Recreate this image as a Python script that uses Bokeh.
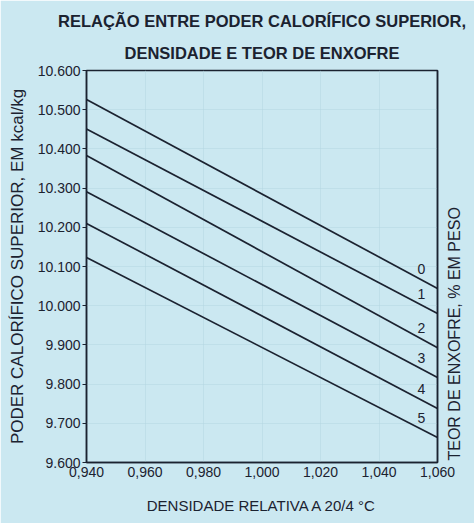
import numpy as np
from bokeh.plotting import figure
from bokeh.models import ColumnDataSource, FixedTicker, CustomJSTickFormatter, Title, LinearAxis
from bokeh.core.properties import value
from bokeh.embed import file_html
from bokeh.resources import INLINE

# ---- data ----
density = [0.940, 1.060]
sulfur_labels = ["0", "1", "2", "3", "4", "5"]
pcs_at_start = [10526, 10451, 10383, 10291, 10210, 10123]   # at density 0,940
pcs_at_end = [10044, 9980, 9893, 9817, 9738, 9664]          # at density 1,060
y_ticks = [9600, 9700, 9800, 9900, 10000, 10100, 10200, 10300, 10400, 10500, 10600]
x_ticks = [0.940, 0.960, 0.980, 1.000, 1.020, 1.040, 1.060]
label_density = 1.0545
right_title = "TEOR DE ENXOFRE, % EM PESO"
right_title_at = 9605

BG = "#cbe8f1"
INK = "#1b2230"
FONT = "Liberation Sans"

p = figure(width=474, height=523, x_range=(0.94, 1.06), y_range=(9600, 10600),
           output_backend="svg", toolbar_location=None,
           min_border_left=86, min_border_right=35, min_border_top=70, min_border_bottom=61)
p.background_fill_color = BG
p.border_fill_color = BG
p.outline_line_color = INK
p.outline_line_width = 1.5

# title (two lines)
p.title.visible = False
t2 = Title(text="DENSIDADE E TEOR DE ENXOFRE", align="center", text_font=FONT,
           text_font_size="16.5px", text_font_style="bold", text_color=INK, standoff=18)
t1 = Title(text="RELAÇÃO ENTRE PODER CALORÍFICO SUPERIOR,", align="center", text_font=FONT,
           text_font_size="16.5px", text_font_style="bold", text_color=INK, standoff=6)
p.add_layout(t2, "above")
p.add_layout(t1, "above")

# lines
xs, ys = [], []
for a, b in zip(pcs_at_start, pcs_at_end):
    xs.append(density)
    ys.append([a, b])
p.multi_line(xs=xs, ys=ys, line_color=INK, line_width=1.7)

# line labels placed on each line near the right end
lab_y = [a + (b - a) * (label_density - density[0]) / (density[1] - density[0])
         for a, b in zip(pcs_at_start, pcs_at_end)]
src = ColumnDataSource(dict(x=[label_density] * len(lab_y), y=lab_y, t=sulfur_labels))
p.text(x="x", y="y", text="t", source=src, text_font=value(FONT), text_font_size="14px",
       text_color=INK, text_align="center", text_baseline="middle", y_offset=-11)

# axes
p.xaxis.ticker = FixedTicker(ticks=x_ticks)
p.yaxis.ticker = FixedTicker(ticks=y_ticks)
p.xaxis.formatter = CustomJSTickFormatter(code="return tick.toFixed(3).replace('.', ',');")
p.yaxis.formatter = CustomJSTickFormatter(
    code="var s = Math.round(tick).toString(); return s.slice(0, -3) + '.' + s.slice(-3);")
for ax in (p.xaxis[0], p.yaxis[0]):
    ax.major_label_text_font = FONT
    ax.major_label_text_font_size = "14px"
    ax.major_label_text_color = INK
    ax.axis_line_color = INK
    ax.axis_line_width = 1.5
    ax.minor_tick_line_color = None
    ax.axis_label_text_font = FONT
    ax.axis_label_text_font_style = "normal"
    ax.axis_label_text_color = INK
p.xaxis.major_tick_line_color = None
p.xaxis.major_tick_out = 0
p.xaxis.major_label_standoff = 4
p.xaxis.axis_label = "DENSIDADE RELATIVA A 20/4 °C"
p.xaxis.axis_label_text_font_size = "15px"
p.xaxis.axis_label_standoff = 17
p.yaxis.major_tick_line_color = INK
p.yaxis.major_tick_in = 0
p.yaxis.major_tick_out = 4
p.yaxis.major_label_standoff = 2
p.yaxis.axis_label = "PODER CALORÍFICO SUPERIOR, EM kcal/kg"
p.yaxis.axis_label_text_font_size = "17px"
p.yaxis.axis_label_standoff = 8

# right-hand title, drawn as the single label of a right axis
right = LinearAxis(ticker=FixedTicker(ticks=[right_title_at]),
                   formatter=CustomJSTickFormatter(args=dict(t=right_title), code="return t;"),
                   major_label_orientation=np.pi / 2, major_label_standoff=17,
                   major_label_text_font=FONT, major_label_text_font_size="16px",
                   major_label_text_color=INK, major_tick_line_color=None,
                   major_tick_in=0, major_tick_out=0, minor_tick_line_color=None,
                   axis_line_color=INK, axis_line_width=1.5)
p.add_layout(right, "right")

p.xgrid.ticker = FixedTicker(ticks=x_ticks)
p.ygrid.ticker = FixedTicker(ticks=y_ticks)
p.grid.grid_line_color = "#b2d4df"
p.grid.grid_line_alpha = 0.45

open("out.html", "w").write(file_html(p, INLINE))
